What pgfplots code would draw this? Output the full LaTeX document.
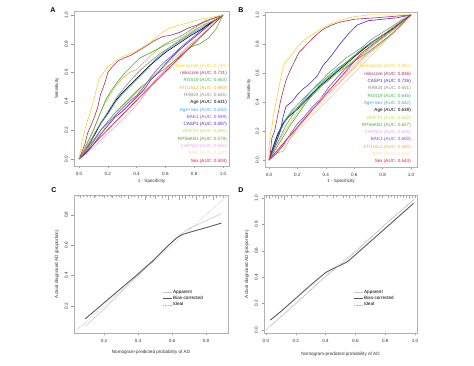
\documentclass[border=0pt]{standalone}
\usepackage{fontspec}
\setmainfont{Liberation Sans}
\usepackage{pgfplots}
\pgfplotsset{compat=1.18}
\definecolor{nomo}{HTML}{F2D33C}
\definecolor{risk}{HTML}{B82A5A}
\definecolor{rgs}{HTML}{3DB54A}
\definecolor{atg}{HTML}{F2A93B}
\definecolor{rab}{HTML}{8C8C8C}
\definecolor{age}{HTML}{000000}
\definecolor{agesex}{HTML}{39A9E0}
\definecolor{bak}{HTML}{7A4DE6}
\definecolor{casp}{HTML}{4A25C9}
\definecolor{wdfy}{HTML}{B8E04A}
\definecolor{rps}{HTML}{5E9E2E}
\definecolor{capn}{HTML}{E3A6F2}
\definecolor{naip}{HTML}{F7DDB0}
\definecolor{sexc}{HTML}{E8193C}
\newcommand{\sm}{\fontsize{4.6}{5.5}\selectfont}
\pgfplotsset{rplot/.style={scale only axis,
  axis line style={draw=gray!60},
  tick style={draw=gray!80, line width=0.4pt},
  tick align=outside, major tick length=2.5pt,
  xtick pos=left, ytick pos=left,
  font=\sm,
  ticklabel style={font=\sm, text=black!80},
  yticklabel style={rotate=90, anchor=south},
  /pgf/number format/assume math mode=true,
  /pgf/number format/fixed, /pgf/number format/fixed zerofill,
  /pgf/number format/precision=1,
  label style={font=\sm, text=black!80},
  every axis plot/.append style={line width=0.6pt},
  },
  roc/.style={rplot, xtick={0,0.2,...,1.0}, ytick={0,0.2,...,1.0}}
}
\begin{document}
\begin{tikzpicture}
\path[use as bounding box] (0,0) rectangle (474pt,366pt);
% ---------------- A
\begin{axis}[roc, at={(74pt,200pt)}, anchor=south west, width=155pt, height=155pt,
  xmin=-0.035, xmax=1.042, ymin=-0.049, ymax=1.028,
  xlabel={1 - Specificity}, ylabel={Sensitivity},
  xlabel style={at={(axis description cs:0.5,0)}, anchor=center, yshift=-15pt},
  ylabel style={at={(axis description cs:0,0.5)}, anchor=center, yshift=17pt}]
\addplot[gray!40, line width=0.5pt] coordinates {(0,0) (1,1)};
\addplot[naip] coordinates {(0,0) (0.1,0.1) (0.2,0.2) (0.3,0.31) (0.4,0.42) (0.5,0.52) (0.6,0.62) (0.7,0.72) (0.8,0.81) (0.9,0.91) (1,1)};
\addplot[capn] coordinates {(0,0) (0.06,0.05) (0.12,0.1) (0.18,0.16) (0.24,0.21) (0.3,0.27) (0.36,0.33) (0.42,0.4) (0.48,0.48) (0.54,0.56) (0.6,0.62) (0.66,0.68) (0.72,0.74) (0.78,0.8) (0.84,0.85) (0.9,0.9) (0.95,0.95) (1,1)};
\addplot[rps] coordinates {(0,0) (0.05,0.07) (0.1,0.13) (0.15,0.2) (0.2,0.26) (0.25,0.32) (0.3,0.37) (0.36,0.43) (0.42,0.49) (0.48,0.54) (0.54,0.59) (0.6,0.63) (0.66,0.68) (0.72,0.73) (0.78,0.78) (0.84,0.8) (0.9,0.84) (0.95,0.9) (1,1)};
\addplot[wdfy] coordinates {(0,0) (0.05,0.06) (0.1,0.12) (0.15,0.18) (0.2,0.24) (0.25,0.3) (0.3,0.36) (0.36,0.42) (0.42,0.48) (0.48,0.54) (0.54,0.6) (0.6,0.65) (0.66,0.7) (0.72,0.75) (0.78,0.8) (0.84,0.85) (0.9,0.9) (0.95,0.95) (1,1)};
\addplot[casp] coordinates {(0,0) (0.05,0.04) (0.1,0.1) (0.15,0.17) (0.2,0.23) (0.25,0.29) (0.3,0.33) (0.35,0.38) (0.4,0.43) (0.45,0.48) (0.5,0.55) (0.55,0.6) (0.6,0.66) (0.65,0.71) (0.7,0.76) (0.76,0.81) (0.82,0.86) (0.88,0.91) (0.94,0.96) (1,1)};
\addplot[bak] coordinates {(0,0) (0.05,0.05) (0.1,0.12) (0.15,0.2) (0.2,0.25) (0.25,0.3) (0.3,0.35) (0.35,0.4) (0.4,0.44) (0.45,0.5) (0.5,0.57) (0.55,0.63) (0.6,0.68) (0.65,0.72) (0.7,0.77) (0.76,0.82) (0.82,0.87) (0.88,0.92) (0.94,0.96) (1,1)};
\addplot[agesex] coordinates {(0,0) (0.03,0.05) (0.07,0.11) (0.11,0.18) (0.15,0.24) (0.2,0.31) (0.25,0.39) (0.3,0.45) (0.36,0.51) (0.42,0.57) (0.48,0.63) (0.54,0.7) (0.6,0.75) (0.66,0.79) (0.72,0.83) (0.78,0.87) (0.85,0.91) (0.92,0.95) (1,1)};
\addplot[age] coordinates {(0,0) (0.03,0.04) (0.07,0.1) (0.11,0.17) (0.15,0.25) (0.2,0.32) (0.25,0.4) (0.3,0.46) (0.36,0.52) (0.42,0.58) (0.48,0.64) (0.54,0.69) (0.6,0.74) (0.66,0.78) (0.72,0.82) (0.78,0.86) (0.85,0.9) (0.92,0.95) (1,1)};
\addplot[rab] coordinates {(0,0) (0.04,0.05) (0.08,0.12) (0.12,0.2) (0.17,0.28) (0.22,0.36) (0.27,0.44) (0.32,0.5) (0.38,0.57) (0.44,0.63) (0.5,0.68) (0.56,0.73) (0.62,0.77) (0.68,0.81) (0.74,0.85) (0.8,0.89) (0.86,0.93) (0.93,0.96) (1,1)};
\addplot[atg] coordinates {(0,0) (0.04,0.06) (0.08,0.15) (0.12,0.25) (0.16,0.35) (0.2,0.42) (0.25,0.5) (0.3,0.56) (0.35,0.6) (0.4,0.62) (0.45,0.67) (0.5,0.72) (0.56,0.77) (0.62,0.8) (0.68,0.82) (0.74,0.86) (0.8,0.9) (0.87,0.93) (0.93,0.96) (1,1)};
\addplot[rgs] coordinates {(0,0) (0.03,0.05) (0.06,0.12) (0.1,0.2) (0.14,0.3) (0.18,0.4) (0.22,0.47) (0.27,0.54) (0.32,0.6) (0.37,0.65) (0.42,0.7) (0.48,0.73) (0.54,0.76) (0.6,0.8) (0.66,0.83) (0.72,0.86) (0.78,0.9) (0.85,0.94) (0.92,0.97) (1,1)};
\addplot[sexc] coordinates {(0,0) (0.5,0.51) (1,1)};
\addplot[risk] coordinates {(0,0) (0.02,0.05) (0.04,0.1) (0.06,0.18) (0.09,0.25) (0.11,0.3) (0.13,0.36) (0.15,0.45) (0.18,0.53) (0.2,0.6) (0.23,0.64) (0.27,0.68) (0.31,0.7) (0.36,0.72) (0.41,0.75) (0.46,0.78) (0.52,0.82) (0.58,0.85) (0.64,0.86) (0.7,0.88) (0.76,0.91) (0.82,0.93) (0.88,0.96) (0.94,0.98) (1,1)};
\addplot[nomo] coordinates {(0,0) (0.01,0.06) (0.02,0.12) (0.04,0.2) (0.06,0.27) (0.08,0.33) (0.1,0.4) (0.12,0.48) (0.14,0.56) (0.17,0.6) (0.2,0.64) (0.24,0.67) (0.28,0.7) (0.33,0.72) (0.38,0.74) (0.43,0.77) (0.48,0.8) (0.53,0.84) (0.58,0.88) (0.63,0.91) (0.7,0.93) (0.77,0.95) (0.84,0.97) (0.9,0.98) (0.95,0.99) (1,1)};
\end{axis}
% ---------------- B
\begin{axis}[roc, at={(265pt,199pt)}, anchor=south west, width=152pt, height=155pt,
  xmin=-0.028, xmax=1.042, ymin=-0.048, ymax=1.02,
  xlabel={1 - Specificity}, ylabel={Sensitivity},
  xlabel style={at={(axis description cs:0.5,0)}, anchor=center, yshift=-14pt},
  ylabel style={at={(axis description cs:0,0.5)}, anchor=center, yshift=16pt}]
\addplot[gray!40, line width=0.5pt] coordinates {(0,0) (1,1)};
\addplot[naip] coordinates {(0,0) (0.1,0.12) (0.2,0.22) (0.3,0.32) (0.4,0.42) (0.5,0.53) (0.6,0.63) (0.7,0.72) (0.8,0.81) (0.9,0.91) (1,1)};
\addplot[atg] coordinates {(0,0) (0.06,0.05) (0.1,0.06) (0.15,0.15) (0.2,0.22) (0.25,0.28) (0.3,0.34) (0.36,0.4) (0.42,0.46) (0.48,0.52) (0.54,0.58) (0.6,0.64) (0.66,0.7) (0.72,0.75) (0.8,0.81) (0.88,0.88) (0.94,0.94) (1,1)};
\addplot[bak] coordinates {(0,0) (0.05,0.04) (0.1,0.1) (0.15,0.18) (0.2,0.25) (0.25,0.3) (0.3,0.36) (0.36,0.42) (0.42,0.5) (0.48,0.57) (0.54,0.63) (0.6,0.68) (0.66,0.73) (0.72,0.78) (0.8,0.84) (0.88,0.9) (0.94,0.95) (1,1)};
\addplot[capn] coordinates {(0,0) (0.06,0.06) (0.12,0.14) (0.18,0.2) (0.24,0.28) (0.3,0.35) (0.36,0.42) (0.42,0.48) (0.48,0.54) (0.54,0.6) (0.6,0.66) (0.66,0.71) (0.72,0.76) (0.8,0.82) (0.88,0.88) (0.94,0.94) (1,1)};
\addplot[rps] coordinates {(0,0) (0.05,0.08) (0.1,0.16) (0.15,0.24) (0.2,0.31) (0.25,0.38) (0.3,0.44) (0.36,0.5) (0.42,0.55) (0.48,0.6) (0.54,0.64) (0.6,0.68) (0.66,0.72) (0.72,0.76) (0.8,0.82) (0.88,0.88) (0.94,0.94) (1,1)};
\addplot[wdfy] coordinates {(0,0) (0.05,0.1) (0.1,0.18) (0.15,0.26) (0.2,0.33) (0.25,0.39) (0.3,0.45) (0.36,0.5) (0.42,0.56) (0.48,0.6) (0.54,0.65) (0.6,0.69) (0.66,0.73) (0.72,0.78) (0.8,0.84) (0.88,0.9) (0.94,0.95) (1,1)};
\addplot[agesex] coordinates {(0,0) (0.03,0.1) (0.06,0.18) (0.1,0.26) (0.14,0.31) (0.2,0.36) (0.25,0.41) (0.3,0.46) (0.36,0.52) (0.42,0.57) (0.48,0.62) (0.54,0.67) (0.6,0.72) (0.66,0.76) (0.72,0.8) (0.8,0.86) (0.88,0.91) (0.94,0.96) (1,1)};
\addplot[age] coordinates {(0,0) (0.03,0.09) (0.06,0.17) (0.1,0.25) (0.14,0.3) (0.2,0.35) (0.25,0.4) (0.3,0.45) (0.36,0.51) (0.42,0.56) (0.48,0.61) (0.54,0.66) (0.6,0.71) (0.66,0.76) (0.72,0.81) (0.8,0.86) (0.88,0.91) (0.94,0.96) (1,1)};
\addplot[rgs] coordinates {(0,0) (0.04,0.1) (0.08,0.2) (0.12,0.28) (0.16,0.34) (0.2,0.38) (0.25,0.43) (0.3,0.48) (0.36,0.53) (0.42,0.58) (0.48,0.63) (0.54,0.67) (0.6,0.72) (0.66,0.77) (0.72,0.81) (0.8,0.86) (0.88,0.92) (0.94,0.96) (1,1)};
\addplot[rab] coordinates {(0,0) (0.04,0.08) (0.08,0.16) (0.12,0.24) (0.16,0.3) (0.2,0.36) (0.25,0.42) (0.3,0.48) (0.36,0.54) (0.42,0.6) (0.48,0.65) (0.54,0.7) (0.6,0.74) (0.66,0.78) (0.72,0.83) (0.8,0.88) (0.88,0.93) (0.94,0.97) (1,1)};
\addplot[sexc] coordinates {(0,0) (0.65,0.736) (1,1)};
\addplot[casp] coordinates {(0,0) (0.02,0.05) (0.05,0.12) (0.08,0.2) (0.1,0.3) (0.12,0.37) (0.16,0.4) (0.2,0.45) (0.24,0.49) (0.28,0.52) (0.34,0.58) (0.38,0.65) (0.44,0.72) (0.5,0.8) (0.56,0.87) (0.62,0.93) (0.7,0.96) (0.8,0.97) (0.9,0.98) (1,1)};
\addplot[risk] coordinates {(0,0) (0.01,0.05) (0.02,0.15) (0.04,0.2) (0.06,0.3) (0.08,0.4) (0.1,0.48) (0.12,0.55) (0.15,0.62) (0.18,0.68) (0.21,0.74) (0.25,0.78) (0.29,0.82) (0.33,0.86) (0.38,0.9) (0.44,0.93) (0.5,0.95) (0.6,0.97) (0.75,0.98) (0.88,0.99) (1,1)};
\addplot[nomo] coordinates {(0,0) (0,0.08) (0.01,0.18) (0.02,0.22) (0.03,0.3) (0.05,0.4) (0.07,0.5) (0.09,0.6) (0.11,0.67) (0.14,0.7) (0.17,0.74) (0.2,0.78) (0.24,0.82) (0.28,0.85) (0.33,0.88) (0.38,0.91) (0.44,0.94) (0.5,0.96) (0.56,0.98) (0.62,0.99) (0.7,1.0) (1,1)};
\end{axis}
% ---------------- C
\begin{axis}[rplot, at={(74pt,33pt)}, anchor=south west, width=154pt, height=138pt,
  xmin=0.024, xmax=0.929, ymin=0.022, ymax=0.93,
  xtick={0.2,0.4,0.6,0.8}, ytick={0.2,0.4,0.6,0.8},
  xlabel={Nomogram-predicted probability of AD}, ylabel={Actual diagnosed AD (proportion)},
  xlabel style={at={(axis description cs:0.5,0)}, anchor=center, yshift=-19pt},
  ylabel style={at={(axis description cs:0,0.5)}, anchor=center, yshift=17pt},
  legend style={draw=none, fill=none, at={(0.555,0.33)}, anchor=north west, font=\sm,
    nodes={inner sep=0.6pt}, row sep=0.2pt},
  legend cell align=left,
  legend image code/.code={\draw[#1] (0pt,0pt) -- (9pt,0pt);}]
\addplot[gray!45, line width=0.5pt] coordinates {(0.09,0.065) (0.2,0.18) (0.3,0.29) (0.4,0.4) (0.5,0.51) (0.6,0.62) (0.65,0.67) (0.7,0.71) (0.8,0.76) (0.89,0.807)};
\addlegendentry{Apparent}
\addplot[black!65, line width=0.9pt] coordinates {(0.09,0.115) (0.2,0.22) (0.3,0.315) (0.4,0.41) (0.5,0.51) (0.58,0.6) (0.63,0.65) (0.66,0.67) (0.72,0.69) (0.8,0.715) (0.89,0.745)};
\addlegendentry{Bias-corrected}
\addplot[gray!60, densely dotted, line width=0.5pt] coordinates {(0,0) (1,1)};
\addlegendentry{Ideal}
\addplot[gray!70, line width=0.3pt, quiver={u=0, v=\thisrow{v}}, forget plot] table {
x y v
0.05 0.93 -0.015
0.06 0.93 -0.02
0.08 0.93 -0.01
0.10 0.93 -0.015
0.12 0.93 -0.01
0.14 0.93 -0.02
0.15 0.93 -0.01
0.17 0.93 -0.015
0.19 0.93 -0.01
0.20 0.93 -0.02
0.22 0.93 -0.01
0.24 0.93 -0.015
0.25 0.93 -0.02
0.27 0.93 -0.01
0.29 0.93 -0.015
0.30 0.93 -0.02
0.32 0.93 -0.01
0.34 0.93 -0.025
0.36 0.93 -0.015
0.38 0.93 -0.01
0.40 0.93 -0.02
0.42 0.93 -0.015
0.44 0.93 -0.03
0.45 0.93 -0.01
0.47 0.93 -0.02
0.49 0.93 -0.015
0.50 0.93 -0.025
0.52 0.93 -0.01
0.54 0.93 -0.02
0.56 0.93 -0.015
0.58 0.93 -0.03
0.60 0.93 -0.02
0.62 0.93 -0.015
0.64 0.93 -0.03
0.66 0.93 -0.02
0.68 0.93 -0.025
0.70 0.93 -0.015
0.72 0.93 -0.02
0.74 0.93 -0.03
0.76 0.93 -0.015
0.78 0.93 -0.025
0.80 0.93 -0.02
0.82 0.93 -0.015
0.84 0.93 -0.03
0.86 0.93 -0.02
0.88 0.93 -0.015
0.90 0.93 -0.02
};
\end{axis}
% ---------------- D
\begin{axis}[rplot, at={(264pt,33pt)}, anchor=south west, width=153pt, height=138pt,
  xmin=-0.013, xmax=1.013, ymin=-0.023, ymax=1.023,
  xtick={0,0.2,...,1.0}, ytick={0,0.2,...,1.0},
  xlabel={Nomogram-predicted probability of AD}, ylabel={Actual diagnosed AD (proportion)},
  xlabel style={at={(axis description cs:0.5,0)}, anchor=center, yshift=-21pt},
  ylabel style={at={(axis description cs:0,0.5)}, anchor=center, yshift=17pt},
  legend style={draw=none, fill=none, at={(0.565,0.33)}, anchor=north west, font=\sm,
    nodes={inner sep=0.6pt}, row sep=0.2pt},
  legend cell align=left,
  legend image code/.code={\draw[#1] (0pt,0pt) -- (9pt,0pt);}]
\addplot[gray!45, line width=0.5pt] coordinates {(0.03,0.03) (0.2,0.2) (0.4,0.41) (0.5,0.5) (0.55,0.54) (0.6,0.59) (0.8,0.8) (0.99,0.985)};
\addlegendentry{Apparent}
\addplot[black!65, line width=0.9pt] coordinates {(0.03,0.075) (0.1,0.14) (0.2,0.24) (0.3,0.34) (0.4,0.435) (0.45,0.465) (0.5,0.49) (0.55,0.52) (0.6,0.57) (0.7,0.67) (0.8,0.77) (0.9,0.87) (0.99,0.96)};
\addlegendentry{Bias-corrected}
\addplot[gray!60, densely dotted, line width=0.5pt] coordinates {(0,0) (1,1)};
\addlegendentry{Ideal}
\addplot[gray!70, line width=0.3pt, quiver={u=0, v=\thisrow{v}}, forget plot] table {
x y v
0.00 1.023 -0.02
0.02 1.023 -0.03
0.04 1.023 -0.015
0.06 1.023 -0.025
0.08 1.023 -0.03
0.10 1.023 -0.02
0.12 1.023 -0.035
0.14 1.023 -0.015
0.17 1.023 -0.02
0.19 1.023 -0.01
0.21 1.023 -0.015
0.23 1.023 -0.01
0.25 1.023 -0.02
0.27 1.023 -0.015
0.29 1.023 -0.01
0.31 1.023 -0.015
0.34 1.023 -0.01
0.36 1.023 -0.02
0.38 1.023 -0.01
0.41 1.023 -0.015
0.43 1.023 -0.01
0.45 1.023 -0.02
0.47 1.023 -0.015
0.50 1.023 -0.01
0.52 1.023 -0.02
0.54 1.023 -0.015
0.56 1.023 -0.025
0.58 1.023 -0.01
0.60 1.023 -0.02
0.62 1.023 -0.015
0.64 1.023 -0.01
0.66 1.023 -0.02
0.68 1.023 -0.015
0.70 1.023 -0.02
0.72 1.023 -0.01
0.74 1.023 -0.025
0.76 1.023 -0.015
0.78 1.023 -0.02
0.80 1.023 -0.01
0.82 1.023 -0.02
0.84 1.023 -0.015
0.86 1.023 -0.025
0.88 1.023 -0.02
0.90 1.023 -0.015
0.92 1.023 -0.025
0.94 1.023 -0.02
0.96 1.023 -0.03
0.98 1.023 -0.02
1.00 1.023 -0.025
};
\end{axis}
% ---------------- legends A and B
\foreach \t/\c [count=\i from 0] in {Nomogram (AUC: 0.745)/nomo, riskscore (AUC: 0.731)/risk, RGS19 (AUC: 0.663)/rgs, ATG16L2 (AUC: 0.660)/atg, RAB24 (AUC: 0.655)/rab, Age (AUC: 0.631)/age, Age+Sex (AUC: 0.630)/agesex, BAK1 (AUC: 0.599)/bak, CASP1 (AUC: 0.597)/casp, WDFY3 (AUC: 0.586)/wdfy, RPS6KB1 (AUC: 0.579)/rps, CAPN10 (AUC: 0.556)/capn, NAIP (AUC: 0.512)/naip, Sex (AUC: 0.504)/sexc}
  \node[anchor=east, inner sep=0pt, text=\c, font=\sm] at (227pt, 300pt-\i*7.31pt) {\t};
\foreach \t/\c [count=\i from 0] in {Nomogram (AUC: 0.852)/nomo, riskscore (AUC: 0.836)/risk, CASP1 (AUC: 0.726)/casp, RAB24 (AUC: 0.651)/rab, RGS19 (AUC: 0.646)/rgs, Age+Sex (AUC: 0.642)/agesex, Age (AUC: 0.638)/age, WDFY3 (AUC: 0.632)/wdfy, RPS6KB1 (AUC: 0.627)/rps, CAPN10 (AUC: 0.608)/capn, BAK1 (AUC: 0.600)/bak, ATG16L2 (AUC: 0.585)/atg, NAIP (AUC: 0.550)/naip, Sex (AUC: 0.543)/sexc}
  \node[anchor=east, inner sep=0pt, text=\c, font=\sm] at (411pt, 299.3pt-\i*7.31pt) {\t};
% ---------------- panel letters
\node[font=\fontsize{7}{8}\selectfont\bfseries] at (53pt,356pt) {A};
\node[font=\fontsize{7}{8}\selectfont\bfseries] at (241pt,356pt) {B};
\node[font=\fontsize{7}{8}\selectfont\bfseries] at (54pt,176pt) {C};
\node[font=\fontsize{7}{8}\selectfont\bfseries] at (241pt,176pt) {D};
\end{tikzpicture}
\end{document}
